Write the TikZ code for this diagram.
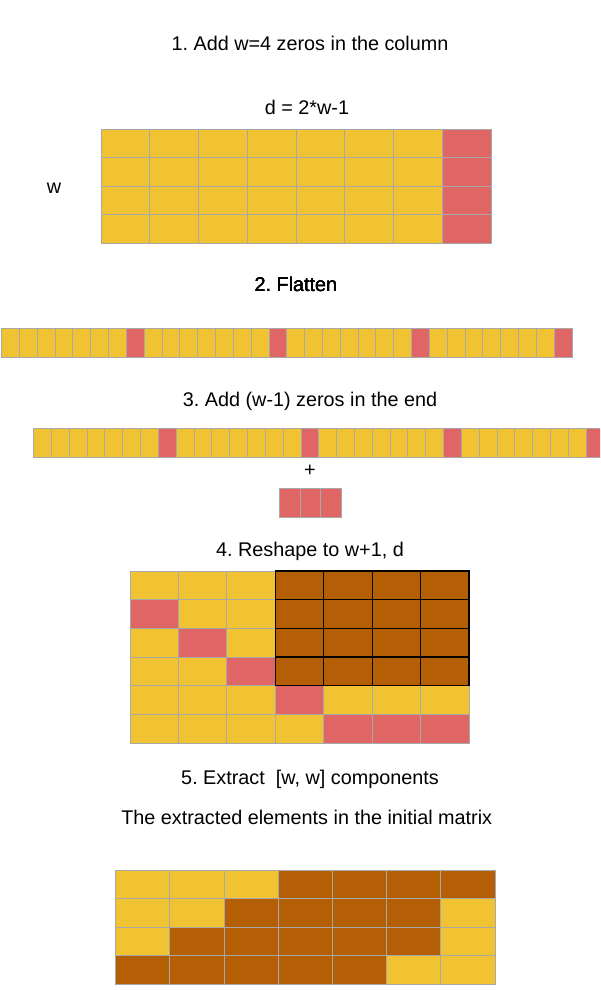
\documentclass[tikz,border=0pt]{standalone}
\usepackage{fontspec}
\setmainfont{Liberation Sans}
\definecolor{zyellow}{HTML}{F1C232}
\definecolor{zred}{HTML}{E06666}
\definecolor{zbrown}{HTML}{B45F06}
\definecolor{zgrid}{HTML}{A8A8A8}
\tikzset{
  cell/.style={draw=zgrid, line width=0.9pt},
  Y/.style={cell, fill=zyellow},
  R/.style={cell, fill=zred},
  B/.style={cell, fill=zbrown},
  K/.style={fill=zbrown, draw=black, line width=1.3pt},
  caption/.style={font=\fontsize{19.8}{23}\selectfont\frenchspacing, inner sep=0pt, anchor=base},
}
% one row of cells: x0, y0, width, height, styles
\newcommand{\cellrow}[5]{%
  \foreach \s [count=\i from 0] in {#5}
    \path[\s] ({#1+\i*#3},#2) rectangle ++(#3,#4);
}
\begin{document}
\begin{tikzpicture}[x=1pt, y=-1pt]
      \useasboundingbox (0,0) rectangle (600,991);
      \clip (0,0) rectangle (600,991);
      \node[caption] (step1) at (310,50.7) {1. Add w=4 zeros in the column};
      \node[caption] (dlabel) at (307,114.3) {d = 2*w-1};
      \node[caption] (wlabel) at (54,193.3) {w};
      % initial matrix
      \foreach \r in {0,...,3}
        \cellrow{101}{129+\r*28.5}{48.75}{28.5}{Y,Y,Y,Y,Y,Y,Y,R}
      \node[caption] (step2) at (296,291.7) {2. Flatten};
      \cellrow{1.5}{328.5}{17.83}{29}{Y,Y,Y,Y,Y,Y,Y,R,Y,Y,Y,Y,Y,Y,Y,R,Y,Y,Y,Y,Y,Y,Y,R,Y,Y,Y,Y,Y,Y,Y,R}
      \node[caption] (step3) at (310,406) {3. Add (w-1) zeros in the end};
      \cellrow{33.5}{428.5}{17.83}{29}{Y,Y,Y,Y,Y,Y,Y,R,Y,Y,Y,Y,Y,Y,Y,R,Y,Y,Y,Y,Y,Y,Y,R,Y,Y,Y,Y,Y,Y,Y,R,R,R,R}
      \node[caption] (plus) at (310,476.5) {+};
      \cellrow{279.3}{488.5}{20.8}{29}{R,R,R}
      \node[caption] (step4) at (310,556) {4. Reshape to w+1, d};
      % reshaped matrix, bottom row first
      \cellrow{130}{571+5*28.67}{48.43}{28.67}{Y,Y,Y,Y,R,R,R}
      \cellrow{130}{571+4*28.67}{48.43}{28.67}{Y,Y,Y,R,Y,Y,Y}
      \cellrow{130}{571+3*28.67}{48.43}{28.67}{Y,Y,R,K,K,K,K}
      \cellrow{130}{571+2*28.67}{48.43}{28.67}{Y,R,Y,K,K,K,K}
      \cellrow{130}{571+1*28.67}{48.43}{28.67}{R,Y,Y,K,K,K,K}
      \cellrow{130}{571}{48.43}{28.67}{Y,Y,Y,K,K,K,K}
      \node[caption] (step5) at (310,784) {5. Extract\ \ [w, w] components};
      \node[caption] (result) at (306.7,824) {The extracted elements in the initial matrix};
      % extracted elements
      \cellrow{115.7}{870}{54.2}{28.5}{Y,Y,Y,B,B,B,B}
      \cellrow{115.7}{870+28.5}{54.2}{28.5}{Y,Y,B,B,B,B,Y}
      \cellrow{115.7}{870+2*28.5}{54.2}{28.5}{Y,B,B,B,B,B,Y}
      \cellrow{115.7}{870+3*28.5}{54.2}{28.5}{B,B,B,B,B,Y,Y}
\end{tikzpicture}
\end{document}
